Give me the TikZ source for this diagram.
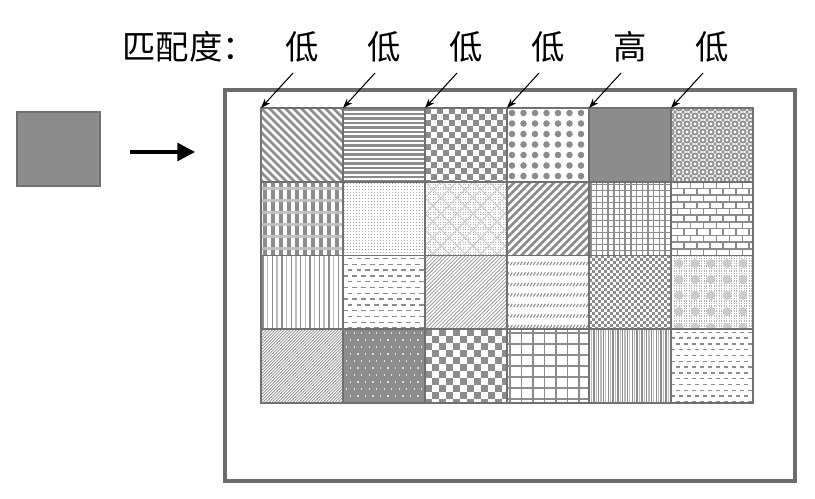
\documentclass[tikz,border=0pt]{standalone}
\usepackage{fontspec}
\newfontfamily\cjk{Noto Sans CJK SC}
\usetikzlibrary{calc, arrows.meta}

% one tile of the catalogue: column, row, pattern drawing (local px coordinates)
\newcommand{\tilepat}[3]{%
  \pgfmathsetmacro{\tx}{261+82*(#1-1)}%
  \pgfmathsetmacro{\ty}{108+73.75*(#2-1)}%
  \begin{scope}[shift={(\tx,\ty)}, tilegray]
    \clip (0,0) rectangle (82,73.75);
    #3
  \end{scope}}

\begin{document}
\begin{tikzpicture}[x=0.02cm, y=-0.02cm,
    tilebox/.style={draw=tileedge, line width=1.1pt, minimum width=1.64cm,
      minimum height=1.475cm, inner sep=0pt, outer sep=0pt},
    lab/.style={font=\cjk\fontsize{19}{22}\selectfont, inner sep=0pt},
    ptr/.style={-{Stealth[length=5.5pt,width=4pt]}, line width=0.6pt},
    bigarrow/.style={-{Triangle[length=10pt,width=10pt]}, line width=2pt}]
  \definecolor{tilegray}{RGB}{140,140,140}
  \definecolor{tileedge}{RGB}{112,112,112}
  \definecolor{frameedge}{RGB}{108,108,108}
  \useasboundingbox (0,0) rectangle (815,499);

  % row 1
  \tilepat{1}{1}{\foreach \i in {-80,-72,...,90} \draw[line width=1.6pt] (\i,0) -- ++(80,80);}
  \tilepat{2}{1}{\foreach \y in {1.5,6,...,76} \draw[line width=1.2pt] (0,\y) -- (82,\y);}
  \tilepat{3}{1}{\foreach \x in {0,12,...,84} \foreach \y in {0,12,...,72}
    {\fill (\x,\y) rectangle ++(6,6); \fill (\x+6,\y+6) rectangle ++(6,6);}}
  \tilepat{4}{1}{\foreach \x in {5,16.5,...,90} \foreach \y in {5,15.5,...,80} \fill (\x,\y) circle (3.3);}
  \tilepat{5}{1}{\fill (0,0) rectangle (82,74);}
  \tilepat{6}{1}{\foreach \x in {0,8,...,90} \foreach \y in {0,8,...,80}
    {\draw[line width=1pt] (\x,\y) circle (2.6); \fill (\x+4,\y+4) circle (1.8);}}
  % row 2
  \tilepat{1}{2}{\foreach \x in {2,10,...,82} \fill (\x,0) rectangle ++(4,74);
    \foreach \y in {5,17,...,74} \fill[tilegray!55] (0,\y) rectangle ++(82,3);}
  \tilepat{2}{2}{\foreach \x in {1,4,...,82} \foreach \y in {1,4,...,74} \fill[tilegray!80] (\x,\y) rectangle ++(1,1);}
  \tilepat{3}{2}{\foreach \x in {0,2.5,...,82} \foreach \y in {0,2.5,...,74} \fill[tilegray!65] (\x,\y) rectangle ++(1.25,1.25);
    \foreach \i in {-80,-64,...,96} {\draw[tilegray!40, line width=0.7pt] (\i,0) -- ++(80,80);
      \draw[tilegray!40, line width=0.7pt] (\i,80) -- ++(80,-80);}}
  \tilepat{4}{2}{\foreach \i in {-80,-72,...,90} \draw[line width=1.6pt] (\i,80) -- ++(80,-80);}
  \tilepat{5}{2}{\foreach \x in {2,7.7,...,82} \draw[line width=0.85pt] (\x,0) -- ++(0,74);
    \foreach \y in {3,9,...,74} \draw[line width=0.85pt] (0,\y) -- ++(82,0);}
  \tilepat{6}{2}{\foreach \y [count=\k] in {0,6.7,...,74} {\draw[line width=0.9pt] (0,\y) -- ++(82,0);
      \pgfmathsetmacro{\off}{mod(\k,2)*6.5}
      \foreach \x in {0,13,...,90} \draw[line width=0.9pt] (\x+\off,\y) -- ++(0,6.7);}}
  % row 3
  \tilepat{1}{3}{\foreach \x in {2,11.4,...,82} \draw[line width=0.8pt] (\x,0) -- ++(0,74);
    \foreach \x in {6.7,16.1,...,82} \draw[tilegray!60, line width=0.8pt] (\x,0) -- ++(0,74);}
  \tilepat{2}{3}{\foreach \y [count=\k] in {3,8.8,...,74} {\pgfmathsetmacro{\dph}{mod(\k,2)*2.5}
      \draw[line width=0.9pt, dash pattern=on 2.8pt off 2.3pt, dash phase=\dph pt] (0,\y) -- ++(82,0);}}
  \tilepat{3}{3}{\foreach \i in {-80,-76.3,...,90} \draw[tilegray!85, line width=0.45pt] (\i,80) -- ++(80,-80);}
  \tilepat{4}{3}{\foreach \y in {8,18.5,...,74} \foreach \x in {0,3.3,...,82}
    \draw[line width=0.6pt] (\x,\y+1.6) -- ++(2,-3.2);}
  \tilepat{5}{3}{\foreach \x in {0,6,...,84} \foreach \y in {0,6,...,78}
    {\fill (\x,\y) rectangle ++(3,3); \fill (\x+3,\y+3) rectangle ++(3,3);}}
  \tilepat{6}{3}{\foreach \x in {0,2.5,...,82} \foreach \y in {0,2.5,...,74} \fill[tilegray!65] (\x,\y) rectangle ++(1.25,1.25);
    \foreach \x in {8,24,...,88} \foreach \y in {8,24,...,80} \fill[tilegray!45] (\x,\y) circle (4.5);}
  % row 4
  \tilepat{1}{4}{\foreach \i in {-80,-77,...,90} \draw[tilegray!85, line width=0.45pt] (\i,80) -- ++(80,-80);}
  \tilepat{2}{4}{\fill (0,0) rectangle (82,74);
    \foreach \x in {3,10.5,...,82} \foreach \y in {3,17,...,74}
    {\fill[white!75!tilegray] (\x,\y) rectangle ++(1.3,1.3); \fill[white!75!tilegray] (\x+3.75,\y+7) rectangle ++(1.3,1.3);}}
  \tilepat{3}{4}{\foreach \x in {0,14,...,84} \foreach \y in {0,14,...,74}
    {\fill (\x,\y) rectangle ++(7,7); \fill (\x+7,\y+7) rectangle ++(7,7);}}
  \tilepat{4}{4}{\foreach \x in {3,14.5,...,82} \draw[line width=1.1pt] (\x,0) -- ++(0,74);
    \foreach \y in {4,15,...,74} \draw[line width=1.1pt] (0,\y) -- ++(82,0);}
  \tilepat{5}{4}{\foreach \x in {0,4.8,...,82} \draw[line width=0.8pt] (\x,0) -- ++(0,74);
    \foreach \x in {2.4,7.2,...,82} \draw[tilegray!60, line width=0.6pt] (\x,0) -- ++(0,74);}
  \tilepat{6}{4}{\foreach \y [count=\k] in {3,8.8,...,74} {\pgfmathsetmacro{\dph}{mod(\k,2)*2}
      \draw[line width=0.8pt, dash pattern=on 2.3pt off 2.3pt, dash phase=\dph pt] (0,\y) -- ++(82,0);}}

  % tile borders
  \foreach \c in {1,...,6}
    \foreach \r in {1,...,4}
      \node[tilebox] (t\c\r) at ({261+82*(\c-0.5)},{108+73.75*(\r-0.5)}) {};

  \node[draw=frameedge, line width=1.8pt, minimum width=11.4cm, minimum height=7.82cm,
    inner sep=0pt, outer sep=0pt] (frame) at (510,285.5) {};
  \node[draw=tileedge, fill=tilegray, line width=0.9pt, minimum width=1.66cm,
    minimum height=1.48cm, inner sep=0pt] (src) at (58.5,149) {};
  \draw[bigarrow, shorten <=0.58cm, shorten >=0.6cm] ([yshift=-0.06cm]src.east) -- ([yshift=-0.06cm]src.east -| frame.west);

  % matching degree labels
  \node[lab, anchor=west] (title) at (122,47) {匹配度：};
  \foreach \c/\txt in {1/低,2/低,3/低,4/低,5/高,6/低} {
    \node[lab] (l\c) at ({261+82*(\c-0.5)},47) {\txt};
    \coordinate (a\c) at ($(t\c1.north west)+(32,-35)$);
    \draw[ptr] (a\c) -- (t\c1.north west);
  }
\end{tikzpicture}
\end{document}
